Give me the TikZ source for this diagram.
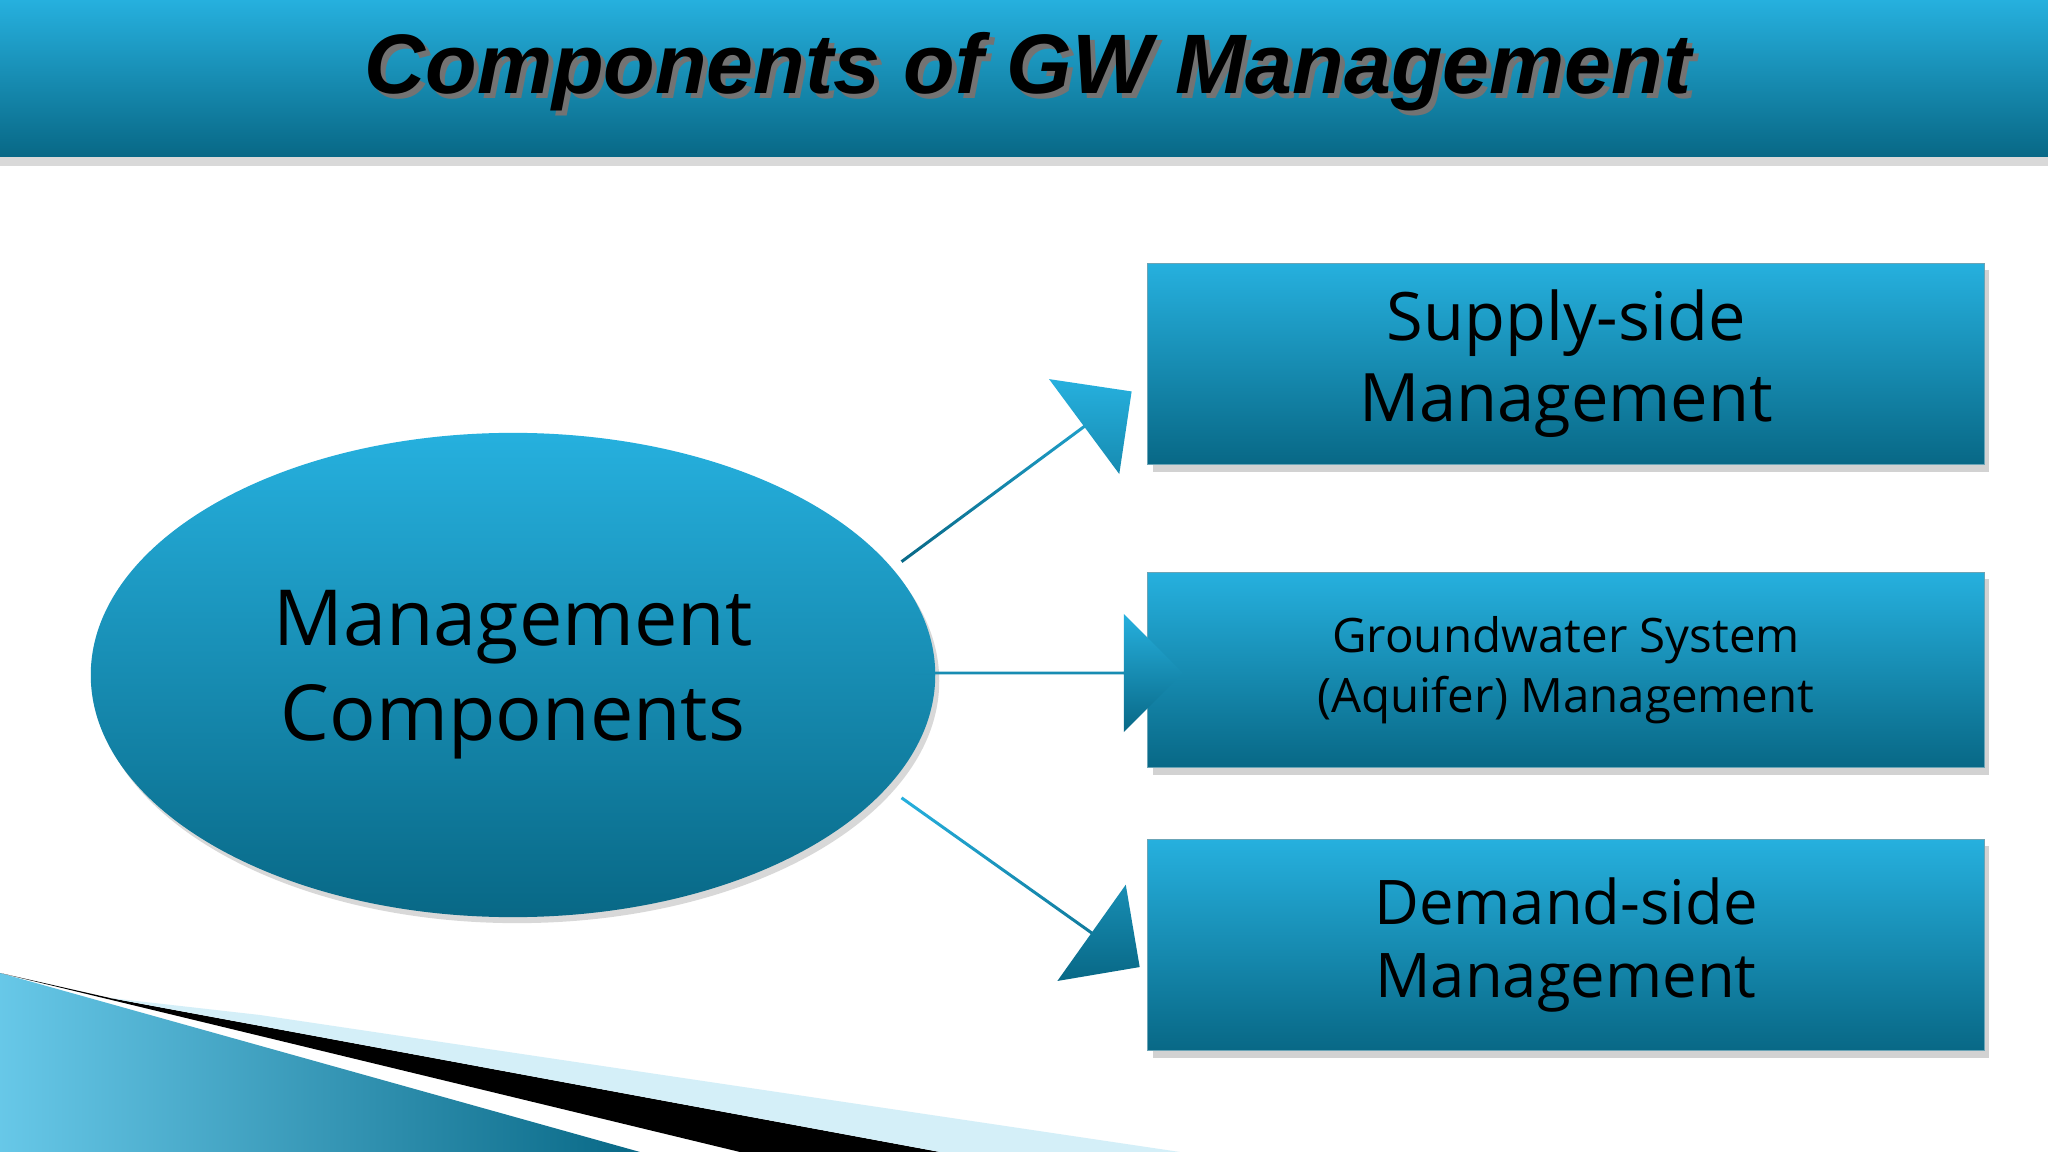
\documentclass[tikz,border=0pt]{standalone}
\usepackage{fontspec}
\setmainfont{Open Sans}
\newfontfamily\titlefont{Liberation Sans}
\usetikzlibrary{shapes.arrows,shapes.geometric,shadows}
\definecolor{blt}{RGB}{38,176,222}
\definecolor{bdk}{RGB}{8,104,134}
\tikzset{
  blueshade/.style={top color=blt,bottom color=bdk},
  mbox/.style={blueshade,draw=bdk!60,line width=0.4pt,minimum width=8.36cm,align=center,drop shadow={opacity=0.35,shadow xshift=0.05cm,shadow yshift=-0.07cm}},
  barrow/.style={single arrow,blueshade,draw=none,minimum width=1.18cm,single arrow head extend=0.27cm,single arrow head indent=0cm,inner sep=0pt}
}
\begin{document}
\begin{tikzpicture}[x=0.01cm,y=-0.01cm]
\useasboundingbox (0,0) rectangle (2048,1152);
\fill[white] (0,0) rectangle (2048,1152);
% title bar
\fill[black!15] (0,157) rectangle (2048,166);
\shade[top color=blt,bottom color=bdk] (0,0) rectangle (2048,157);
\node[text=black!55] (titleshadow) at (1033,77) {\titlefont\fontsize{24}{28}\selectfont\bfseries\itshape Components of GW Management};
\node (title) at (1028,72) {\titlefont\fontsize{24}{28}\selectfont\bfseries\itshape Components of GW Management};
% bottom-left decoration
\shade[left color=blt!70!white,right color=bdk] (0,973) -- (640,1152) -- (0,1152) -- cycle;
\fill[black] (0,973) -- (110,998) -- (940,1152) -- (740,1152) -- cycle;
\fill[blt!20] (110,998) -- (260,1015) -- (1180,1152) -- (940,1152) -- cycle;
% ellipse
\node[ellipse,blueshade,minimum width=8.44cm,minimum height=4.84cm,align=center,drop shadow={opacity=0.3,shadow xshift=0.04cm,shadow yshift=-0.06cm},font=\fontsize{22}{27}\selectfont] (mc) at (513,675) {Management\\Components};
% boxes
\node[mbox,minimum height=2.01cm,font=\fontsize{19}{23}\selectfont] (s) at (1566,364) {Supply-side\\Management};
\node[mbox,minimum height=1.95cm,font=\fontsize{13.5}{17}\selectfont] (g) at (1566,670) {Groundwater System\\(Aquifer) Management};
\node[mbox,minimum height=2.11cm,font=\fontsize{17.5}{21}\selectfont] (d) at (1566,945) {Demand-side\\Management};
% arrows
\node[barrow,minimum height=2.86cm,rotate=36.5] (a1) at (1016,477) {};
\node[barrow,minimum height=2.68cm] (a2) at (1048,673) {};
\node[barrow,minimum height=2.92cm,rotate=-35.4] (a3) at (1020,882) {};
\end{tikzpicture}
\end{document}
